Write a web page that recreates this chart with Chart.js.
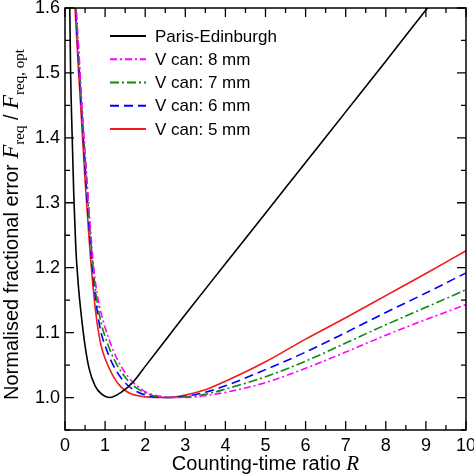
<!DOCTYPE html>
<html>
<head>
<meta charset="utf-8">
<script src="https://cdn.jsdelivr.net/npm/chart.js@4.4.1/dist/chart.umd.min.js"></script>
<style>
  html, body { margin: 0; padding: 0; background: #fff; }
  #wrap { width: 474px; height: 475px; }
</style>
</head>
<body>
<div id="wrap"><canvas id="chart" width="474" height="475"></canvas></div>
<script>
// values
const seriesLabels = ['Paris-Edinburgh', 'V can: 8 mm', 'V can: 7 mm', 'V can: 6 mm', 'V can: 5 mm'];

const peR = [0.1, 0.14, 0.18, 0.22, 0.27, 0.33, 0.4, 0.5, 0.6, 0.75, 0.9, 1.12, 1.4, 1.7, 2.0, 2.5, 3, 4, 5, 6, 7, 8, 9, 10];
const peF = [1.7, 1.50, 1.40, 1.31, 1.23, 1.175, 1.13, 1.08, 1.045, 1.018, 1.006, 1.0, 1.008, 1.024, 1.048, 1.088, 1.128, 1.206, 1.284, 1.362, 1.44, 1.518, 1.597, 1.675];

const canR  = [0.25, 0.3, 0.35, 0.4, 0.5, 0.6, 0.7, 0.8, 0.9, 1.0, 1.2, 1.4, 1.6, 1.8, 2.0, 2.5, 3.0, 3.5, 4, 5, 6, 7, 8, 9, 10];
const can8F = [1.64, 1.58, 1.53, 1.475, 1.38, 1.29, 1.21, 1.16, 1.13, 1.108, 1.073, 1.048, 1.03, 1.018, 1.009, 1.001, 1.0, 1.003, 1.008, 1.023, 1.045, 1.07, 1.096, 1.12, 1.143];
const can7F = [1.63, 1.57, 1.52, 1.465, 1.37, 1.278, 1.2, 1.148, 1.115, 1.094, 1.062, 1.04, 1.024, 1.014, 1.007, 1.0, 1.001, 1.005, 1.013, 1.032, 1.056, 1.084, 1.112, 1.139, 1.166];
const can6F = [1.615, 1.56, 1.505, 1.455, 1.355, 1.265, 1.19, 1.135, 1.1, 1.08, 1.05, 1.03, 1.017, 1.009, 1.004, 1.0, 1.002, 1.008, 1.018, 1.043, 1.07, 1.1, 1.131, 1.161, 1.192];
const can5F = [1.60, 1.545, 1.49, 1.44, 1.335, 1.245, 1.17, 1.115, 1.08, 1.06, 1.033, 1.016, 1.007, 1.003, 1.001, 1.0, 1.004, 1.012, 1.025, 1.055, 1.09, 1.123, 1.157, 1.191, 1.226];

const xTicks = [0, 1, 2, 3, 4, 5, 6, 7, 8, 9, 10];
const yTicks = [1.0, 1.1, 1.2, 1.3, 1.4, 1.5, 1.6];

const SANS = '"Liberation Sans", Arial, Helvetica, sans-serif';
const SERIF = '"Liberation Serif", "Times New Roman", serif';

function pts(xs, ys) { return xs.map((x, i) => ({ x: x, y: ys[i] })); }

function lineSet(label, data, color, dash) {
  return {
    label: label, data: data, borderColor: color, backgroundColor: color,
    borderWidth: 1.6, borderDash: dash, pointRadius: 0, fill: false,
    cubicInterpolationMode: 'monotone'
  };
}

// frame, inward ticks, legend and axis titles
const decor = {
  id: 'decor',
  afterDraw(chart) {
    const ctx = chart.ctx;
    const a = chart.chartArea;
    const xs = chart.scales.x, ys = chart.scales.y;
    ctx.save();
    ctx.strokeStyle = '#000';
    ctx.lineWidth = 1.5;
    ctx.strokeRect(a.left, a.top, a.right - a.left, a.bottom - a.top);

    ctx.lineWidth = 1.3;
    ctx.beginPath();
    for (let v = 0; v <= 10.001; v += 0.5) {
      const px = xs.getPixelForValue(v);
      const len = Math.abs(v - Math.round(v)) < 1e-6 ? 9 : 5;
      ctx.moveTo(px, a.bottom); ctx.lineTo(px, a.bottom - len);
      ctx.moveTo(px, a.top); ctx.lineTo(px, a.top + len);
    }
    for (let k = 0; k <= 13; k++) {
      const v = 0.95 + k * 0.05;
      const py = ys.getPixelForValue(v);
      const len = k % 2 === 1 ? 9 : 5;
      ctx.moveTo(a.left, py); ctx.lineTo(a.left + len, py);
      ctx.moveTo(a.right, py); ctx.lineTo(a.right - len, py);
    }
    ctx.stroke();

    // legend
    ctx.font = '17px ' + SANS;
    ctx.fillStyle = '#000';
    ctx.textBaseline = 'middle';
    ctx.textAlign = 'left';
    chart.data.datasets.forEach((ds, i) => {
      const y = 36 + i * 23.25;
      ctx.save();
      ctx.strokeStyle = ds.borderColor;
      ctx.lineWidth = 1.8;
      ctx.setLineDash(ds.borderDash || []);
      ctx.beginPath(); ctx.moveTo(110, y); ctx.lineTo(146, y); ctx.stroke();
      ctx.restore();
      ctx.fillText(ds.label, 155, y + 1);
    });

    // x title
    ctx.textBaseline = 'alphabetic';
    const xt1 = 'Counting-time ratio ';
    ctx.font = '20px ' + SANS;
    const w1 = ctx.measureText(xt1).width;
    ctx.font = 'italic 21px ' + SERIF;
    const w2 = ctx.measureText('R').width;
    let sx = (a.left + a.right) / 2 - (w1 + w2) / 2;
    ctx.font = '20px ' + SANS;
    ctx.fillText(xt1, sx, 470);
    ctx.font = 'italic 21px ' + SERIF;
    ctx.fillText('R', sx + w1, 470);

    // y title, rotated, with subscripts; starts near the bottom of the plot
    const parts = [
      ['Normalised fractional error ', '20px ' + SANS, 0],
      ['F', 'italic 23px ' + SERIF, 0],
      ['req', '15px ' + SERIF, 6],
      [' / ', '20px ' + SANS, 0],
      ['F', 'italic 23px ' + SERIF, 0],
      ['req, opt', '15px ' + SERIF, 6]
    ];
    ctx.translate(18, 400);
    ctx.rotate(-Math.PI / 2);
    let cx = 0;
    parts.forEach(p => {
      ctx.font = p[1];
      ctx.fillText(p[0], cx, p[2]);
      cx += ctx.measureText(p[0]).width;
    });
    ctx.restore();
  }
};

new Chart(document.getElementById('chart'), {
  type: 'line',
  data: {
    datasets: [
      lineSet(seriesLabels[0], pts(peR, peF), '#000000', []),
      lineSet(seriesLabels[1], pts(canR, can8F), '#ff00ff', [7, 3, 2, 3]),
      lineSet(seriesLabels[2], pts(canR, can7F), '#0a8a0a', [9, 3, 2, 3]),
      lineSet(seriesLabels[3], pts(canR, can6F), '#0000ff', [9, 5]),
      lineSet(seriesLabels[4], pts(canR, can5F), '#ee1c1c', [])
    ]
  },
  options: {
    responsive: false,
    animation: false,
    layout: { padding: { top: 8, right: 8, left: 0, bottom: 0 } },
    plugins: { legend: { display: false }, tooltip: { enabled: false } },
    scales: {
      x: {
        type: 'linear', min: 0, max: 10,
        grid: { display: false, drawTicks: false },
        border: { display: false },
        afterBuildTicks: s => { s.ticks = xTicks.map(v => ({ value: v })); },
        ticks: { color: '#000', font: { size: 18, family: SANS }, padding: 5, maxRotation: 0, autoSkip: false },
        afterFit: s => { s.height = 45; s.paddingLeft = 0; s.paddingRight = 0; }
      },
      y: {
        min: 0.95, max: 1.6,
        grid: { display: false, drawTicks: false },
        border: { display: false },
        afterBuildTicks: s => { s.ticks = yTicks.map(v => ({ value: v })); },
        ticks: { color: '#000', font: { size: 18, family: SANS }, padding: 5, callback: v => v.toFixed(1) },
        afterFit: s => { s.width = 65; s.paddingTop = 0; s.paddingBottom = 0; }
      }
    }
  },
  plugins: [decor]
});
</script>
</body>
</html>
